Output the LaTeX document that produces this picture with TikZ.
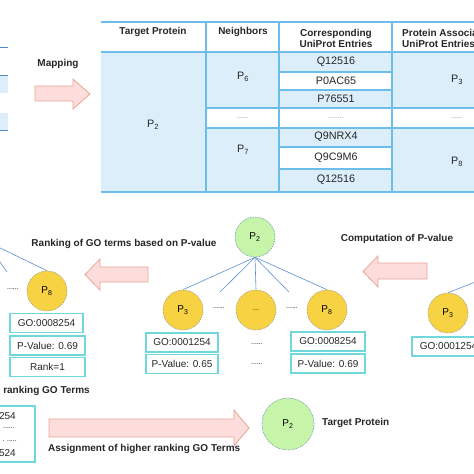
\documentclass[tikz,border=0pt]{standalone}
\usepackage{fontspec}
\setmainfont{Liberation Sans}
\usetikzlibrary{shapes.geometric}
\definecolor{tblue}{HTML}{6CBDE9}
\definecolor{tblued}{HTML}{4F8FD0}
\definecolor{tfill}{HTML}{DDEEFB}
\definecolor{yel}{HTML}{F7D343}
\definecolor{grn}{HTML}{C6F5AA}
\definecolor{cyanb}{HTML}{70D8DA}
\definecolor{pinkf}{HTML}{FCDDDC}
\definecolor{pinkd}{HTML}{EAA597}
\definecolor{edgeb}{HTML}{5B8FD0}
\definecolor{txt}{HTML}{262626}
\begin{document}
\begin{tikzpicture}[x=1pt,y=-1pt,
  tl/.style={draw=tblue,line width=1.1pt},
  cell/.style={font=\fontsize{10.8}{12}\selectfont, inner sep=0pt, text=txt},
  dots/.style={font=\fontsize{7}{8}\selectfont, inner sep=0pt, text=gray},
  hdr/.style={font=\bfseries\fontsize{10}{11.5}\selectfont, align=center, inner sep=0pt, text=txt},
  lbl/.style={font=\bfseries\fontsize{10}{12}\selectfont, inner sep=0pt, text=txt},
  ycirc/.style={circle, minimum size=40pt, inner sep=0pt, fill=yel, draw=gray!80!yellow, dash pattern=on 1.5pt off 1pt, line width=0.6pt, font=\fontsize{10}{12}\selectfont},
  gcirc/.style={circle, minimum size=40pt, inner sep=0pt, fill=grn, draw=gray!70!cyan, dash pattern=on 1.5pt off 1pt, line width=0.6pt, font=\fontsize{10}{12}\selectfont},
  gobox/.style={draw=cyanb, line width=1.2pt, minimum width=73pt, minimum height=19pt, inner sep=0pt, font=\fontsize{10}{12}\selectfont, text=txt},
  edge/.style={draw=edgeb, line width=0.6pt},
  barrow/.style={fill=pinkf, draw=pinkd, line width=0.8pt, line join=miter}
]
\useasboundingbox (0,0) rectangle (474,474);

% ---- remnants of a table at the left edge
\fill[tfill] (0,75) rectangle (8,93);
\fill[tfill] (0,113) rectangle (8,130);
\draw[draw=tblued,line width=1pt] (-5,47) -- (8,47) (-5,75) -- (8,75) (-5,130) -- (8,130);

% ---- mapping arrow
\node[lbl] (mapping) at (58,64) {Mapping};
\draw[barrow] (35,86) -- (73,86) -- (73,79) -- (90,94) -- (73,109) -- (73,101) -- (35,101) -- cycle;

% ---- table fills
\fill[tfill] (101,52) rectangle (206,192);
\fill[tfill] (206,52) rectangle (279,108);
\fill[tfill] (206,128) rectangle (279,192);
\fill[tfill] (279,52) rectangle (392,72);
\fill[tfill] (279,90) rectangle (392,108);
\fill[tfill] (279,128) rectangle (392,147);
\fill[tfill] (279,169) rectangle (392,192);
\fill[tfill] (392,52) rectangle (480,108);
\fill[tfill] (392,128) rectangle (480,192);

% ---- table lines
\draw[tl] (101,22) -- (480,22);
\draw[tl] (101,52) -- (480,52);
\draw[tl] (206,108) -- (480,108);
\draw[tl] (206,128) -- (480,128);
\draw[tl] (101,192) -- (480,192);
\draw[tl] (279,72) -- (392,72) (279,90) -- (392,90) (279,147) -- (392,147) (279,169) -- (392,169);
\draw[tl] (206,22) -- (206,192) (279,22) -- (279,192) (392,22) -- (392,192);

% ---- headers
\node[hdr] (h1) at (153,32) {Target Protein};
\node[hdr] (h2) at (243,32) {Neighbors};
\node[hdr] (h3) at (336,38.5) {Corresponding\\UniProt Entries};
\node[hdr, anchor=west, align=left] (h4) at (402,38.5) {Protein Associated\\UniProt Entries};

% ---- cells
\node[cell] (c2) at (153,125) {P\textsubscript{2}};
\node[cell] (c6) at (243,77) {P\textsubscript{6}};
\node[dots] (cd1) at (243,118) {......};
\node[cell] (c7) at (243,150) {P\textsubscript{7}};
\node[cell] (e1) at (336,62) {Q12516};
\node[cell] (e2) at (336,81) {P0AC65};
\node[cell] (e3) at (336,99) {P76551};
\node[dots] (cd2) at (336,118) {........};
\node[cell] (e4) at (336,137) {Q9NRX4};
\node[cell] (e5) at (336,158) {Q9C9M6};
\node[cell] (e6) at (336,180) {Q12516};
\node[cell] (c3) at (457,80) {P\textsubscript{3}};
\node[dots] (cd3) at (457,118) {......};
\node[cell] (c8) at (457,162) {P\textsubscript{8}};

% ---- ranking arrow and label
\node[lbl] (ranking) at (124,244) {Ranking of GO terms based on P-value};
\draw[barrow] (148,267) -- (100,267) -- (100,259) -- (85,274.5) -- (100,290) -- (100,282) -- (148,282) -- cycle;

% ---- computation arrow and label
\node[lbl] (comp) at (397,239) {Computation of P-value};
\draw[barrow] (427,263) -- (378,263) -- (378,256) -- (363,271.5) -- (378,287) -- (378,279) -- (427,279) -- cycle;

% ---- middle tree
\node[gcirc] (p2) at (255,237) {P\textsubscript{2}};
\node[ycirc] (m3) at (183,310) {P\textsubscript{3}};
\node[ycirc] (mm) at (256,310) {\fontsize{6}{7}\selectfont ....};
\node[ycirc] (m8) at (327,310) {P\textsubscript{8}};
\coordinate (d1) at (220,292);
\coordinate (d2) at (289,292);
\draw[edge] (p2.south) -- (m3.north);
\draw[edge] (p2.south) -- (d1);
\draw[edge] (p2.south) -- (mm.north);
\draw[edge] (p2.south) -- (d2);
\draw[edge] (p2.south) -- (m8.north);
\node[font=\fontsize{7}{8}\selectfont, inner sep=0pt] (md1) at (219,308) {......};
\node[font=\fontsize{7}{8}\selectfont, inner sep=0pt] (md2) at (292,308) {......};
\node[gobox, minimum width=72pt] (mg3) at (182,342.5) {GO:0001254};
\node[gobox, minimum width=72pt] (mp3) at (182,364) {P-Value: 0.65};
\node[font=\fontsize{7}{8}\selectfont, inner sep=0pt] (md3) at (257,344) {......};
\node[font=\fontsize{7}{8}\selectfont, inner sep=0pt] (md4) at (257,364) {......};
\node[gobox, minimum width=74pt] (mg8) at (328,341.5) {GO:0008254};
\node[gobox, minimum width=74pt] (mp8) at (328,363.5) {P-Value: 0.69};

% ---- left (clipped) tree
\node[ycirc] (l8) at (47,291) {P\textsubscript{8}};
\coordinate (lp) at (-41,228);
\coordinate (lq) at (-14,242);
\coordinate (lq2) at (7,272);
\draw[edge] (lp) -- (l8.north);
\draw[edge] (lq) -- (lq2);
\node[font=\fontsize{7}{8}\selectfont, inner sep=0pt, anchor=east] (ld) at (19,289) {......};
\node[gobox, minimum width=73pt] (lg8) at (46.5,323) {GO:0008254};
\node[gobox, minimum width=75pt] (lpv) at (47.5,345.5) {P-Value: 0.69};
\node[gobox, minimum width=75pt] (lrk) at (47.5,367) {Rank=1};

% ---- right (clipped) tree
\node[ycirc] (r3) at (448,313) {P\textsubscript{3}};
\coordinate (rp) at (506,270);
\draw[edge] (r3.north) -- (rp);
\node[gobox, minimum width=73pt] (rg3) at (448.5,346.5) {GO:0001254};

% ---- bottom left
\node[lbl, anchor=east] (hr) at (90,391) {ranking GO Terms};
\draw[draw=cyanb, line width=1.2pt] (-5,406) -- (35,406) -- (35,462) -- (-5,462);
\node[cell, anchor=east, font=\fontsize{10}{12}\selectfont] (b1) at (16,416) {254};
\node[font=\fontsize{7}{8}\selectfont, inner sep=0pt, anchor=east] (b2) at (15,428) {......};
\node[font=\fontsize{7}{8}\selectfont, inner sep=0pt, anchor=east] (b3) at (17,441) {. .....};
\node[cell, anchor=east, font=\fontsize{10}{12}\selectfont] (b4) at (16,453) {524};

% ---- assignment arrow
\draw[barrow] (49,419) -- (234,419) -- (234,410) -- (249,428) -- (234,446) -- (234,437) -- (49,437) -- cycle;
\node[lbl, anchor=west] (assign) at (48,449) {Assignment of higher ranking GO Terms};

% ---- target protein legend
\node[gcirc, minimum size=52pt] (tp) at (288,424) {P\textsubscript{2}};
\node[lbl, anchor=west] (tpl) at (322,423) {Target Protein};
\end{tikzpicture}
\end{document}
